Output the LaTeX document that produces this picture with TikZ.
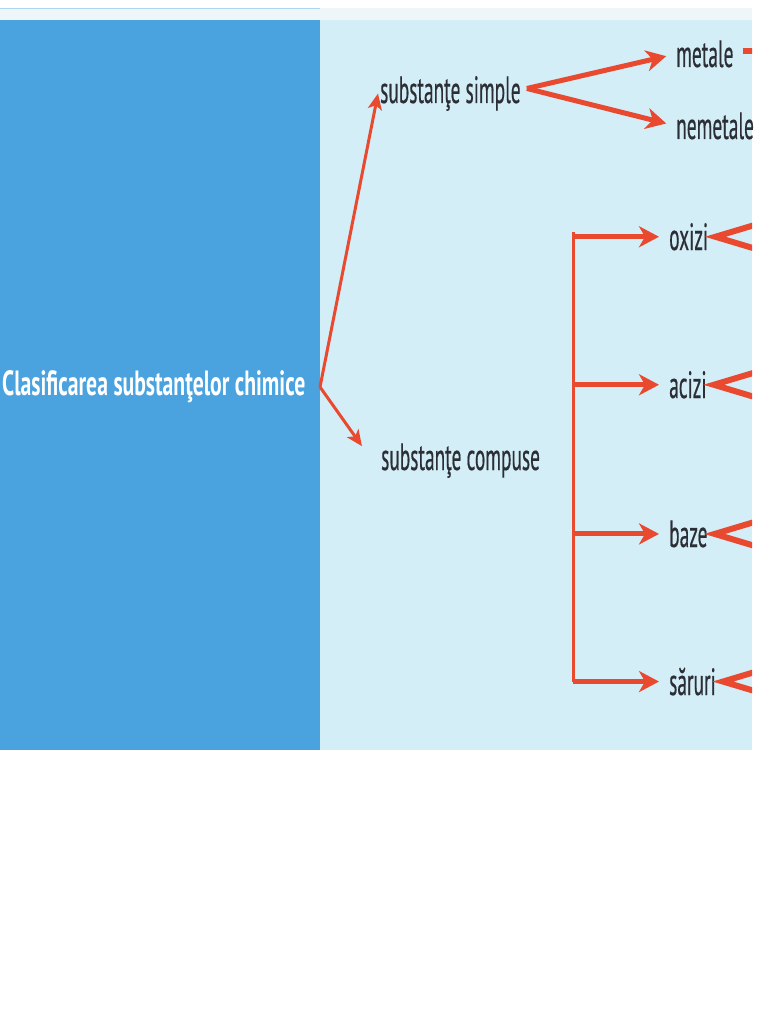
\documentclass[tikz,border=0pt]{standalone}
\usepackage{fontspec}
\usetikzlibrary{arrows.meta}
\newfontfamily\termfont[FakeStretch=0.51, FakeBold=0.4]{PT Sans}
\newfontfamily\headfont[FakeStretch=0.62]{PT Sans}
\definecolor{panelblue}{HTML}{4AA3DE}
\definecolor{panellight}{HTML}{D3EEF7}
\definecolor{stripwhite}{HTML}{EEF6FA}
\definecolor{arrowred}{HTML}{E9492F}
\definecolor{textgray}{HTML}{2C2E36}

\begin{document}
\begin{tikzpicture}[x=1pt, y=-1pt,
        term/.style={anchor=base west, inner sep=0pt, text=textgray,
            font=\termfont\fontsize{38}{38}\selectfont},
        heading/.style={anchor=base west, inner sep=0pt, text=white,
            font=\headfont\bfseries\fontsize{35}{35}\selectfont},
        branch/.style={draw=arrowred, line width=5pt, shorten >=10pt,
            -{Stealth[length=20pt, width=21pt, inset=6pt]}},
        feed/.style={draw=arrowred, line width=3pt,
            -{Stealth[length=16pt, width=14pt, inset=4pt]}},
        stub/.style={draw=arrowred, line width=6pt, line join=miter}
    ]
        \useasboundingbox (0,0) rectangle (768,1024);

        % Panels
        \fill[stripwhite] (0,8) rectangle (752,20);
        \draw[panelblue!45, line width=1.5pt] (0,8.5) -- (320,8.5);
        \fill[panelblue] (0,20) rectangle (320,750);
        \fill[panellight] (320,20) rectangle (752,750);

        % Title
        \node[heading] (title) at (2,395) {Clasificarea substanţelor chimice};
        \coordinate (fork) at (320,387);

        % Simple / compuse
        \node[term] (simple) at (380,103) {substanţe simple};
        \node[term] (compuse) at (381,470) {substanţe compuse};

        % Simple -> metale, nemetale
        \node[term] (metale) at (676,67) {metale};
        \node[term] (nemetale) at (676,139) {nemetale};

        % Compuse (4 clase)
        \foreach \name/\txt/\y in {oxizi/oxizi/250, acizi/acizi/398,
                baze/baze/547, saruri/săruri/695}
            \node[term] (\name) at (669,\y) {\txt};

        % Verbindungen
        \draw[feed] (fork) -- ([xshift=-2pt]simple.west);
        \draw[feed] (fork) -- ([xshift=-19pt, yshift=-3pt]compuse.north west);
        \draw[branch] ([xshift=6pt, yshift=5pt]simple.east) -- (metale.west);
        \draw[branch] ([xshift=6pt, yshift=5pt]simple.east) -- (nemetale.west);

        \coordinate (bartop) at (573,232);
        \draw[arrowred, line width=3pt] (bartop) -- (bartop |- saruri.west);
        \foreach \name in {oxizi, acizi, baze, saruri}
            \draw[branch] (bartop |- \name.west) -- (\name.west);

        % Abgeschnittene Verbindungen am rechten Rand
        \begin{scope}
            \clip (320,20) rectangle (752,750);
            \draw[stub] ([xshift=9pt, yshift=3pt]metale.east) -- ++(40,0);
            \foreach \name in {oxizi, acizi, baze, saruri}
                \draw[stub] ([xshift=7pt]\name.east) ++(40,-12)
                    -- ([xshift=7pt]\name.east) -- ++(40,12);
        \end{scope}

    \end{tikzpicture}
\end{document}
